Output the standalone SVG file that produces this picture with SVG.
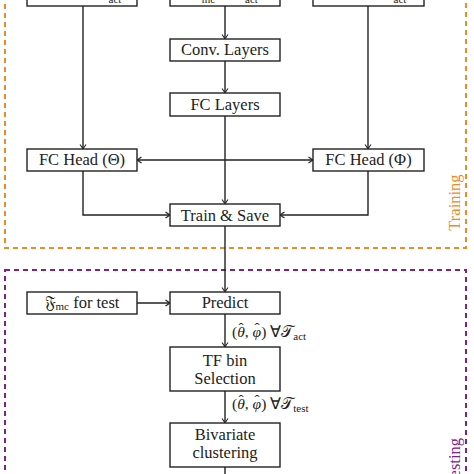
<svg xmlns="http://www.w3.org/2000/svg" width="474" height="474" viewBox="0 0 474 474">
<style>
.box{fill:#fff;stroke:#222;stroke-width:1.4}
.ln{fill:none;stroke:#222;stroke-width:1.4}
.arr{marker-end:url(#arr)}
</style>
<defs>
<marker id="arr" viewBox="-6 -4 7 8" refX="0" refY="0" markerWidth="7" markerHeight="8" markerUnits="userSpaceOnUse" orient="auto-start-reverse">
<path d="M-4.5,-3 Q-1.5,-0.8 0,0 Q-1.5,0.8 -4.5,3" fill="none" stroke="#222" stroke-width="1.1"/>
</marker>
</defs>

<g id="training-frame">
<rect x="5" y="-40" width="461" height="288" fill="none" stroke="#F08A24" stroke-width="2" stroke-dasharray="5,4"/>
<text transform="translate(460,202.5) rotate(-90)" font-family="Liberation Serif, serif" font-size="16.5" fill="#F08A24" text-anchor="middle">Training</text>
</g>
<g id="testing-frame">
<rect x="5" y="270" width="461" height="260" fill="none" stroke="#80208A" stroke-width="2" stroke-dasharray="5,4"/>
<text transform="translate(460,438) rotate(-90)" font-family="Liberation Serif, serif" font-size="16.5" fill="#80208A" text-anchor="end">Testing</text>
</g>

<g id="connectors">
<path class="ln arr" d="M83,6 V149"/>
<path class="ln arr" d="M225,6 V39"/>
<path class="ln arr" d="M368,6 V149"/>
<path class="ln arr" d="M225,61 V93"/>
<path class="ln arr" d="M225,116 V204"/>
<path class="ln arr" d="M137,160 H313" style="marker-start:url(#arr)"/>
<path class="ln arr" d="M83,171 V215 H170"/>
<path class="ln arr" d="M368,171 V215 H280"/>
<path class="ln arr" d="M225,226 V292"/>
<path class="ln arr" d="M137,303 H170"/>
<path class="ln arr" d="M225,314 V347"/>
<path class="ln arr" d="M225,391 V423"/>
<path class="ln" d="M225,467 V480"/>
<g font-family="Liberation Serif, serif" font-size="15.5" fill="#222">
<text x="232" y="337">(<tspan font-style="italic">θ</tspan><tspan dx="-6.4" dy="-4">ˆ</tspan><tspan dx="1.2" dy="4">, </tspan><tspan font-style="italic">φ</tspan><tspan dx="-6.6" dy="-4">ˆ</tspan><tspan dx="1.6" dy="4">) ∀𝒯</tspan><tspan font-size="11" dy="3">act</tspan></text>
<text x="232" y="409">(<tspan font-style="italic">θ</tspan><tspan dx="-6.4" dy="-4">ˆ</tspan><tspan dx="1.2" dy="4">, </tspan><tspan font-style="italic">φ</tspan><tspan dx="-6.6" dy="-4">ˆ</tspan><tspan dx="1.6" dy="4">) ∀𝒯</tspan><tspan font-size="11" dy="3">test</tspan></text>
</g>
</g>

<g font-family="Liberation Serif, serif" font-size="16.5" fill="#222" text-anchor="middle">
<g id="input-left">
<rect class="box" x="27" y="-20" width="110" height="26"/>
<text x="115" y="2.5" font-size="11">act</text>
</g>
<g id="input-mid">
<rect class="box" x="170" y="-20" width="110" height="26"/>
<text x="208.5" y="2.5" font-size="11">mc</text>
<text x="251.5" y="2.5" font-size="11">act</text>
</g>
<g id="input-right">
<rect class="box" x="313" y="-20" width="111" height="26"/>
<text x="400" y="2.5" font-size="11">act</text>
</g>

<g id="conv">
<rect class="box" x="170" y="39" width="110" height="22"/>
<text x="225" y="55">Conv. Layers</text>
</g>
<g id="fc">
<rect class="box" x="170" y="93" width="110" height="23"/>
<text x="225" y="110">FC Layers</text>
</g>
<g id="head-theta">
<rect class="box" x="27" y="149" width="110" height="22"/>
<text x="82" y="165">FC Head (Θ)</text>
</g>
<g id="head-phi">
<rect class="box" x="313" y="149" width="111" height="22"/>
<text x="368.5" y="165">FC Head (Φ)</text>
</g>
<g id="train">
<rect class="box" x="170" y="204" width="110" height="22"/>
<text x="225" y="221">Train &amp; Save</text>
</g>
<g id="fmc">
<rect class="box" x="27" y="292" width="110" height="22"/>
<text x="82" y="308">𝔉<tspan font-size="11" dy="2">mc</tspan><tspan dy="-2"> for test</tspan></text>
</g>
<g id="predict">
<rect class="box" x="170" y="292" width="110" height="22"/>
<text x="225" y="308">Predict</text>
</g>
<g id="tfbin">
<rect class="box" x="170" y="347" width="110" height="44"/>
<text x="225" y="366">TF bin</text>
<text x="225" y="384">Selection</text>
</g>
<g id="bivariate">
<rect class="box" x="170" y="423" width="110" height="44"/>
<text x="225" y="440">Bivariate</text>
<text x="225" y="458">clustering</text>
</g>
</g>
</svg>
